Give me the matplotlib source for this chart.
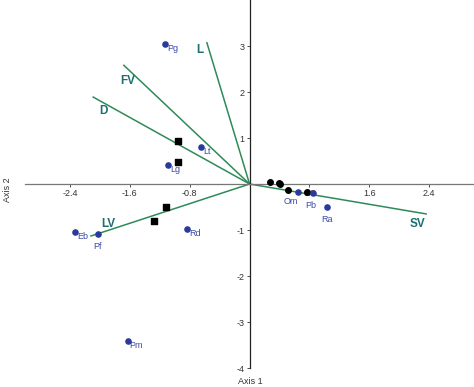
import matplotlib
matplotlib.use("Agg")
import matplotlib.pyplot as plt

plt.rcParams['font.family'] = ['Liberation Sans', 'DejaVu Sans']

# species (blue points)
species = ['Pg', 'Lt', 'Lg', 'Eb', 'Pf', 'Rd', 'Pm', 'Om', 'Pb', 'Ra']
sp_x = [-1.13, -0.65, -1.09, -2.33, -2.03, -0.84, -1.63, 0.65, 0.85, 1.04]
sp_y = [3.04, 0.80, 0.41, -1.04, -1.09, -0.98, -3.41, -0.17, -0.20, -0.50]

# variables (vectors)
variables = ['L', 'FV', 'D', 'LV', 'SV']
var_x = [-0.57, -1.68, -2.09, -2.12, 2.36]
var_y = [3.07, 2.58, 1.89, -1.13, -0.65]
var_lx = [-0.66, -1.63, -1.95, -1.89, 2.25]
var_ly = [2.91, 2.24, 1.59, -0.87, -0.87]

# sites (black markers)
sq_x = [-0.95, -0.95, -1.12, -1.28]
sq_y = [0.93, 0.47, -0.50, -0.80]
ci_x = [0.27, 0.39, 0.41, 0.51, 0.77]
ci_y = [0.04, 0.03, 0.00, -0.14, -0.17]

xticks = [-2.4, -1.6, -0.8, 0.8, 1.6, 2.4]
yticks = [-4, -3, -2, -1, 1, 2, 3]

fig = plt.figure(figsize=(4.74, 3.87), dpi=100)
ax = fig.add_axes([0.053, 0.049, 0.947, 0.951])
ax.set_xlim(-3, 3)
ax.set_ylim(-4, 4)

for s in ['top', 'right']:
    ax.spines[s].set_visible(False)
ax.spines['left'].set_position(('data', 0))
ax.spines['bottom'].set_position(('data', 0))
ax.spines['left'].set_color('#222222')
ax.spines['bottom'].set_color('#777777')
ax.spines['left'].set_linewidth(0.9)
ax.spines['bottom'].set_linewidth(0.9)

ax.set_xticks(xticks)
ax.set_xticklabels([f"{t:.1f}" for t in xticks])
ax.set_yticks(yticks)
ax.set_yticklabels([str(t) for t in yticks])
ax.tick_params(axis='both', labelsize=6.5, length=2, width=0.6, colors='#333333', pad=1.5)

green = '#2e8b57'
teal = '#1c6e70'
for x, y in zip(var_x, var_y):
    ax.plot([0, x], [0, y], color=green, lw=1.1, zorder=2)
for name, x, y in zip(variables, var_lx, var_ly):
    ax.text(x, y, name, color=teal, fontsize=8.5, fontweight='bold', ha='center', va='center')

ax.scatter(sq_x, sq_y, marker='s', s=22, color='black', zorder=4)
ax.scatter(ci_x, ci_y, marker='o', s=16, color='black', zorder=4)

blue = '#2a3a9a'
ax.scatter(sp_x, sp_y, marker='o', s=14, color=blue, zorder=5)
offsets = {'Pf': (0, -9, 'center'), 'Om': (-5, -7, 'center'), 'Pb': (-2, -9, 'center'),
           'Ra': (0, -9, 'center')}
for name, x, y in zip(species, sp_x, sp_y):
    dx, dy, ha = offsets.get(name, (1.5, -3, 'left'))
    ax.annotate(name, (x, y), xytext=(dx, dy), textcoords='offset points',
                fontsize=6.5, color='#3a4aa8', ha=ha, va='center')

fig.text(250 / 474, 1 - 381 / 387, 'Axis 1', fontsize=6.5, color='#333333', ha='center', va='center')
fig.text(7 / 474, 1 - 190 / 387, 'Axis 2', fontsize=6.5, color='#333333', ha='center', va='center', rotation=90)

fig.savefig('out.png', dpi=100)
